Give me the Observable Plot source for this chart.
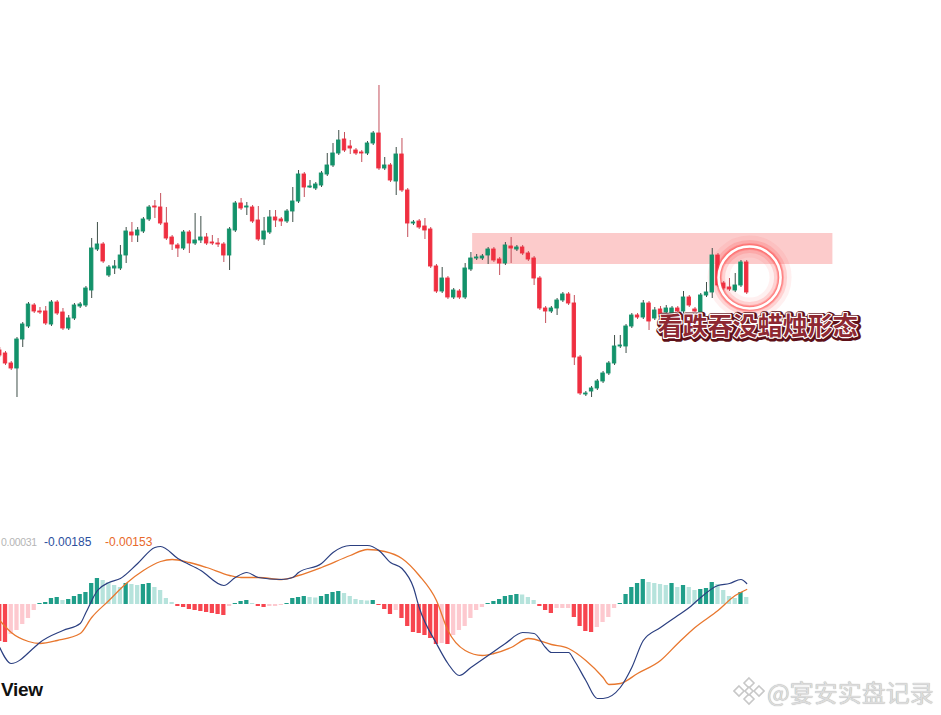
<!DOCTYPE html>
<html><head><meta charset="utf-8">
<script src="https://cdn.jsdelivr.net/npm/d3@7"></script>
<script src="https://cdn.jsdelivr.net/npm/@observablehq/plot@0.6"></script>
<style>
body{margin:0;background:#fff;}
#wrap{position:relative;width:941px;height:715px;overflow:hidden;background:#fff;}
#price{position:absolute;left:0;top:0;}
#macd{position:absolute;left:0;top:470px;}
.lg{position:absolute;top:535px;font:12px "Liberation Sans",Arial,sans-serif;white-space:nowrap;}
#tv{position:absolute;left:1px;top:679px;font:bold 19px "Liberation Sans",Arial,sans-serif;color:#111;white-space:nowrap;letter-spacing:-0.3px;}
#wm{position:absolute;left:767px;top:674px;font:24px "Noto Sans CJK SC",sans-serif;color:#dcdcdc;text-shadow:0 0 1px #9a9a9a;white-space:nowrap;}
#logo{position:absolute;left:733px;top:676px;}
</style></head>
<body><div id="wrap">
<div id="price"></div>
<div id="macd"></div>
<div class="lg" style="left:1px;color:#b5b5b5;font-size:10.5px;top:536px;letter-spacing:-0.3px" id="lg0"></div>
<div class="lg" style="left:44px;color:#2c4f9e" id="lg1"></div>
<div class="lg" style="left:105px;color:#e8692a" id="lg2"></div>
<div id="tv"></div>
<svg id="logo" width="32" height="30" viewBox="0 0 32 30">
 <g fill="#fff" stroke="#c8c8c8" stroke-width="1.6">
  <path d="M16 2 L21 7 L16 12 L11 7Z"/>
  <path d="M6 10 L11 15 L6 20 L1 15Z"/>
  <path d="M26 10 L31 15 L26 20 L21 15Z"/>
  <path d="M16 18 L21 23 L16 28 L11 23Z"/>
  <path d="M16 11 L20 15 L16 19 L12 15Z"/>
 </g>
</svg>
<div id="wm"></div>
</div>
<script>
// ---- price data (OHLC) ----
const open = [.250,.247,.237,.232,.261,.274,.295,.289,.289,.276,
.298,.288,.272,.282,.294,.295,.310,.351,.356,.325,
.332,.332,.345,.368,.365,.369,.381,.394,.393,.377,
.363,.355,.352,.368,.357,.360,.363,.358,.357,.356,
.345,.370,.397,.393,.393,.380,.361,.368,.383,.381,
.379,.389,.399,.426,.413,.412,.415,.426,.435,.447,
.461,.454,.450,.448,.447,.457,.467,.432,.435,.419,
.446,.410,.377,.379,.374,.371,.334,.309,.322,.303,
.309,.303,.331,.342,.342,.345,.351,.341,.337,.354,
.351,.353,.347,.342,.322,.292,.289,.292,.300,.306,
.297,.243,.206,.209,.212,.219,.227,.237,.254,.254,
.274,.285,.283,.297,.282,.291,.288,.287,.292,.289,
.303,.291,.287,.305,.308,.345,.317,.313,.310,.315,
.338];
const close = [.245,.237,.232,.261,.276,.296,.289,.288,.277,.298,
.287,.272,.282,.295,.296,.312,.352,.356,.339,.333,
.334,.345,.369,.365,.370,.381,.393,.393,.377,.362,
.356,.352,.368,.357,.360,.363,.357,.357,.356,.345,
.371,.397,.392,.394,.379,.361,.369,.383,.380,.379,
.389,.399,.426,.413,.414,.416,.427,.435,.447,.460,
.450,.452,.447,.447,.457,.467,.432,.435,.420,.446,
.410,.377,.378,.373,.370,.334,.309,.322,.303,.310,
.303,.332,.342,.343,.344,.351,.340,.337,.355,.352,
.353,.347,.341,.322,.292,.289,.292,.300,.306,.297,
.243,.207,.207,.212,.219,.227,.237,.254,.255,.274,
.285,.283,.297,.279,.290,.286,.292,.292,.289,.303,
.295,.289,.305,.308,.345,.315,.312,.311,.315,.338,
.308];
const high = [.253,.249,.239,.263,.278,.298,.297,.293,.294,.300,
.300,.292,.285,.297,.298,.314,.362,.378,.358,.335,
.340,.355,.373,.378,.373,.383,.395,.400,.407,.393,
.365,.357,.370,.370,.387,.384,.367,.365,.362,.358,
.373,.399,.402,.398,.395,.394,.383,.390,.390,.383,
.391,.413,.430,.428,.420,.418,.429,.447,.457,.470,
.468,.460,.452,.450,.459,.469,.515,.443,.437,.453,
.462,.412,.380,.381,.382,.373,.336,.333,.324,.312,
.311,.337,.348,.346,.346,.353,.353,.343,.358,.363,
.355,.355,.349,.344,.324,.294,.294,.302,.308,.308,
.305,.245,.209,.214,.221,.229,.239,.265,.265,.276,
.287,.287,.300,.299,.293,.294,.295,.294,.294,.309,
.305,.293,.307,.318,.352,.347,.319,.322,.327,.340,
.340];
const low = [.243,.235,.230,.203,.253,.272,.287,.286,.275,.274,
.285,.270,.270,.280,.292,.293,.302,.349,.337,.323,
.326,.330,.337,.358,.358,.367,.379,.382,.375,.360,
.350,.343,.350,.347,.355,.357,.355,.355,.353,.338,
.330,.368,.390,.385,.377,.359,.355,.366,.373,.374,
.377,.378,.397,.403,.412,.410,.413,.424,.433,.445,
.448,.446,.445,.438,.445,.455,.430,.430,.418,.405,
.408,.363,.375,.371,.361,.332,.307,.307,.301,.301,
.301,.301,.329,.340,.340,.336,.338,.325,.335,.337,
.349,.345,.339,.315,.290,.277,.287,.285,.298,.295,
.235,.205,.204,.203,.210,.217,.225,.235,.252,.247,
.272,.281,.281,.270,.280,.284,.286,.285,.287,.287,
.293,.288,.285,.303,.302,.313,.310,.309,.308,.313,
.306];

// ---- MACD data ----
const hist = [-.0037,-.0038,-.0030,-.0026,-.0020,-.0014,-.0006,.0001,.0002,.0006,
.0007,.0004,.0005,.0008,.0010,.0012,.0021,.0026,.0024,.0022,
.0019,.0017,.0021,.0020,.0019,.0020,.0021,.0017,.0014,.0006,
.0002,-.0002,-.0003,-.0005,-.0006,-.0007,-.0008,-.0009,-.0010,-.0011,
-.0002,.0001,.0003,.0004,.0001,-.0002,-.0003,-.0002,-.0002,-.0001,
.0001,.0006,.0007,.0008,.0007,.00065,.0008,.0010,.0012,.0013,
.0011,.0008,.0005,.0004,.00035,.0004,-.0001,-.0005,-.0010,-.0006,
-.0014,-.0022,-.0028,-.0029,-.0031,-.0034,-.0040,-.0039,-.0040,-.0031,
-.0026,-.0022,-.0014,-.0006,-.0003,.0001,.0003,.0005,.0008,.0009,
.0010,.00095,.0007,.0004,-.0002,-.0006,-.0009,-.0004,-.0004,-.0004,
-.0013,-.0022,-.0027,-.0028,-.0023,-.0018,-.0013,-.0004,.0001,.0010,
.0017,.0021,.0025,.0022,.0021,.0020,.0019,.0021,.0017,.0019,
.0017,.0014,.0015,.0016,.0022,.0020,.0014,.0008,.0006,.0012,
.0007];
const macdIdx = [0,2,6,7,11,14,15,17,19,21,24,27,28,31,35,39,41,43,45,49,51,52,56,58,61,64,66,68,70,72,73,76,78,80,82,85,88,91,93,95,96,99,100,102,104,105,108,110,112,115,118,120,121,125,127,129,130];
const macdVal = [-.0043,-.0059,-.0043,-.0038,-.0026,-.0019,-.0008,.0014,.0022,.0026,
.0041,.0057,.0058,.0046,.0034,.0019,.0027,.0032,.0027,.0025,
.0027,.0032,.0041,.0052,.0059,.0059,.0054,.0042,.0036,.0017,
-.0003,-.0039,-.0059,-.0071,-.0063,-.0051,-.0039,-.0028,-.0029,-.0043,
-.0048,-.0048,-.0056,-.0076,-.0094,-.0094,-.0083,-.0063,-.0036,-.0023,
-.0011,-.0003,.0002,.0019,.0021,.0025,.0021];
const signalIdx = [0,2,5,7,10,14,16,19,22,25,28,30,33,36,40,42,45,49,52,56,61,64,67,70,73,76,78,81,84,86,89,92,96,99,102,105,106,108,111,115,118,121,125,128,130];
const signalVal = [-.0016,-.0028,-.0037,-.0039,-.0036,-.0029,-.0013,.0004,.0021,.0034,
.0043,.0045,.0042,.0037,.0029,.0027,.0027,.0025,.0029,.0037,
.0049,.0055,.0053,.0046,.0029,.0004,-.0026,-.0046,-.0051,-.0049,
-.0043,-.0034,-.0040,-.0044,-.0056,-.0073,-.0080,-.0079,-.0069,-.0056,
-.0039,-.0023,-.0006,.0009,.0015];
const legendValues = ["0.00031", "-0.00185", "-0.00153"];

// ---- annotations ----
const zone = {x1: 82.3, x2: 145, y1: 0.336, y2: 0.367};
const circleAt = {x: 130.5, y: 0.323};
const label = {x: 131.9, y: 0.274, text: "看跌吞没蜡烛形态"};
const watermark = "@宴安实盘记录";
const brand = "View";

// ---- styles ----
const UP = "#13926a", DOWN = "#ef2f40";
const WICK_UP = "#3e4f48", WICK_DOWN = "#c4505b";
const xScale = {type: "linear", domain: [0.13, 163.9], range: [0, 941], axis: null};

const candles = open.map((o, i) => ({i, o, c: close[i], h: high[i], l: low[i], up: close[i] >= o}));

const pricePlot = Plot.plot({
  width: 941, height: 470,
  marginTop: 0, marginRight: 0, marginBottom: 0, marginLeft: 0,
  x: xScale,
  y: {domain: [0.130, 0.600], axis: null},
  style: {background: "transparent", overflow: "visible"},
  marks: [
    Plot.rect([zone], {x1: "x1", x2: "x2", y1: "y1", y2: "y2", fill: "#fcc8c8", fillOpacity: 0.95}),
    Plot.dot([circleAt], {x: "x", y: "y", r: 31, fill: "none", stroke: "#ff3a3a", strokeWidth: 22, strokeOpacity: 0.08}),
    Plot.dot([circleAt], {x: "x", y: "y", r: 31, fill: "none", stroke: "#ff3a3a", strokeWidth: 13, strokeOpacity: 0.16}),
    Plot.dot([circleAt], {x: "x", y: "y", r: 31, fill: "none", stroke: "#ff4545", strokeWidth: 7, strokeOpacity: 0.3}),
    Plot.ruleX(candles, {x: "i", y1: "l", y2: "h", stroke: d => d.up ? WICK_UP : WICK_DOWN, strokeWidth: 1}),
    Plot.rect(candles, {
      x1: d => d.i - 0.3, x2: d => d.i + 0.3, y1: "o", y2: "c",
      fill: d => d.up ? UP : DOWN, stroke: d => d.up ? UP : DOWN, strokeWidth: 0.9
    }),
    Plot.dot([circleAt], {x: "x", y: "y", r: 31, fill: "none", stroke: "#ff5a5a", strokeWidth: 5, strokeOpacity: 0.5}),
    Plot.dot([circleAt], {x: "x", y: "y", r: 31, fill: "none", stroke: "#ffffff", strokeWidth: 2.6}),
    Plot.text([label], {x: "x", y: "y", text: "text", fontSize: 25, fontWeight: "bold",
      fontFamily: "Noto Sans CJK SC", fill: "#5e1018", stroke: "#5e1018", strokeWidth: 6, dx: 1, dy: 1}),
    Plot.text([label], {x: "x", y: "y", text: "text", fontSize: 25, fontWeight: "bold",
      fontFamily: "Noto Sans CJK SC", fill: "#8e2832", stroke: "#ffffff", strokeWidth: 2.4})
  ]
});
document.getElementById("price").appendChild(pricePlot);

// MACD panel
const bars = hist.map((v, i) => {
  const prev = i > 0 ? hist[i - 1] : v;
  let color;
  if (v >= 0) color = (i > 0 && v > prev) ? "#1f9e89" : "#b6e3dc";
  else color = (i === 0 || v < prev) ? "#f7454f" : "#fdc9cf";
  return {i, v, zero: 0, color};
});
const macdPts = macdIdx.map((i, k) => ({i, v: macdVal[k]}));
const signalPts = signalIdx.map((i, k) => ({i, v: signalVal[k]}));

const macdPlot = Plot.plot({
  width: 941, height: 245,
  marginTop: 0, marginRight: 0, marginBottom: 0, marginLeft: 0,
  x: xScale,
  y: {domain: [-0.0111, 0.0134], axis: null},
  style: {background: "transparent", overflow: "visible"},
  marks: [
    Plot.rect(bars, {x1: d => d.i - 0.37, x2: d => d.i + 0.37, y1: "zero", y2: "v", fill: "color"}),
    Plot.line(signalPts, {x: "i", y: "v", stroke: "#e8772e", strokeWidth: 1.3, curve: "monotone-x"}),
    Plot.line(macdPts, {x: "i", y: "v", stroke: "#2b3f80", strokeWidth: 1.2, curve: "monotone-x"})
  ]
});
document.getElementById("macd").appendChild(macdPlot);

document.getElementById("lg0").textContent = legendValues[0];
document.getElementById("lg1").textContent = legendValues[1];
document.getElementById("lg2").textContent = legendValues[2];
document.getElementById("tv").textContent = brand;
document.getElementById("wm").textContent = watermark;
</script>
</body></html>
